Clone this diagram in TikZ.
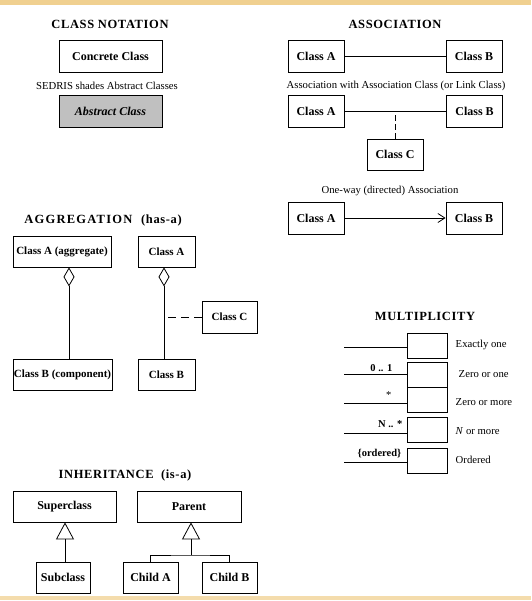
\documentclass[tikz,border=0pt]{standalone}
\usepackage{fontspec}
\setmainfont{Liberation Serif}
\newfontfamily\headfont[LetterSpace=5]{Liberation Serif}
\newfontfamily\wideheadfont[LetterSpace=10]{Liberation Serif}
\usetikzlibrary{arrows.meta}
\definecolor{barcol}{RGB}{240,208,144}
\definecolor{absgray}{RGB}{192,192,192}

\begin{document}
\begin{tikzpicture}[x=1pt,y=-1pt,line width=0.8pt,
  cls/.style={draw,fill=white,inner sep=0pt,minimum height=32pt,minimum width=#1,
    font=\fontsize{12}{14}\selectfont\bfseries},
  agg/.style={cls=#1,minimum height=31pt,font=\fontsize{11}{13}\selectfont\bfseries},
  title/.style={font=\fontsize{12.5}{14}\headfont\bfseries},
  note/.style={font=\fontsize{10.7}{12}\selectfont},
  qual/.style={anchor=east,font=\fontsize{10.5}{12}\selectfont\bfseries},
  mult/.style={draw,inner sep=0pt,minimum width=40pt,minimum height=25pt},
  hasa/.style={{Diamond[open,length=19pt,width=11pt]}-},
  isa/.style={{Triangle[open,length=17pt,width=18pt]}-}]
\useasboundingbox (0,0) rectangle (531,601);
\fill[barcol] (0,0) rectangle (531,5);
\fill[barcol!75] (0,596) rectangle (531,600);

% class notation
\node[title] (tnot) at (110,24) {CLASS NOTATION};
\node[cls=103pt] (conc) at (110.5,56) {Concrete Class};
\node[note] (shade) at (107,86) {SEDRIS shades Abstract Classes};
\node[cls=103pt,fill=absgray,font=\fontsize{12}{14}\selectfont\bfseries\itshape] (abs) at (110.5,111) {Abstract Class};

% association
\node[title] (tasc) at (395,24) {ASSOCIATION};
\node[cls=56pt] (a1) at (316,56) {Class A};
\node[cls=56pt] (b1) at (474,56) {Class B};
\draw (a1) -- (b1);
\node[note] (linkcls) at (396,86) {Association with Association Class (or Link Class)};
\node[cls=56pt] (a2) at (316,111) {Class A};
\node[cls=56pt] (b2) at (474.5,111) {Class B};
\node[cls=56pt,minimum height=31pt] (c2) at (395,154.5) {Class C};
\draw (a2) -- (b2);
\draw[dash pattern=on 6pt off 3pt] (c2.north) -- (c2.north |- a2.east);
\node[note] (oneway) at (390,191) {One-way (directed) Association};
\node[cls=56pt] (a3) at (316,218) {Class A};
\node[cls=56pt] (b3) at (474,218) {Class B};
\draw[-{Straight Barb[length=7pt,width=9pt]}] (a3) -- (b3);

% aggregation
\node[title,font=\fontsize{12.5}{14}\wideheadfont\bfseries] (tagg) at (103,220) {AGGREGATION\ \ \headfont(has-a)};
\node[agg=98pt] (whole) at (62,251.5) {Class A (aggregate)};
\node[agg=99pt] (part) at (62.5,374.5) {Class B (component)};
\draw[hasa] ([xshift=7pt]whole.south) -- ([xshift=7pt]whole.south |- part.north);
\node[agg=57pt] (wa) at (166.5,251.5) {Class A};
\node[agg=57pt] (wb) at (166.5,374.5) {Class B};
\node[agg=55pt,minimum height=32pt] (wc) at (229.5,317) {Class C};
\draw[hasa] ([xshift=-2.5pt]wa.south) -- ([xshift=-2.5pt]wa.south |- wb.north);
\draw[dash pattern=on 8pt off 5pt] (wc.west) -- ++(-36,0);

% multiplicity
\node[title] (tmul) at (425,316) {MULTIPLICITY};
\node[mult] (m1) at (427,345.5) {};
\node[mult] (m2) at (427,374.5) {};
\node[mult] (m3) at (427,400) {};
\node[mult] (m4) at (427,429.5) {};
\node[mult] (m5) at (427,460.5) {};
\coordinate (e1) at (344,347);
\coordinate (e2) at (344,374);
\coordinate (e3) at (344,403);
\coordinate (e4) at (344,433);
\coordinate (e5) at (344,462);
\draw (e1) -- (e1 -| m1.west);
\draw (e2) -- (e2 -| m2.west);
\draw (e3) -- (e3 -| m3.west);
\draw (e4) -- (e4 -| m4.west);
\draw (e5) -- (e5 -| m5.west);
\node[qual] (q2) at (396,368) {0 .. 1};
\node[qual,font=\fontsize{10.5}{12}\selectfont] (q3) at (395,395) {*};
\node[qual] (q4) at (406,424) {N .. *};
\node[qual] (q5) at (405,454) {\{ordered\}};
\node[note,anchor=west] (r1) at (452,345) {Exactly one};
\node[note,anchor=west] (r2) at (455,374) {Zero or one};
\node[note,anchor=west] (r3) at (452,402) {Zero or more};
\node[note,anchor=west] (r4) at (452,431) {\textit{N} or more};
\node[note,anchor=west] (r5) at (452,460) {Ordered};

% inheritance
\node[title] (tinh) at (125,475) {INHERITANCE\ \ (is-a)};
\node[cls=103pt,minimum height=31pt] (sup) at (64.5,506.5) {Superclass};
\node[cls=54pt,minimum height=31pt] (sub) at (63,577.5) {Subclass};
\draw[isa] ([xshift=2pt]sub.north |- sup.south) -- ([xshift=2pt]sub.north);
\node[cls=104pt,minimum height=31pt] (par) at (189,506.5) {Parent};
\node[cls=55pt,minimum height=31pt] (cha) at (150.5,577.5) {Child A};
\node[cls=55pt,minimum height=31pt] (chb) at (229.5,577.5) {Child B};
\coordinate (fork) at (191,555);
\draw (cha.north) |- (fork) -| (chb.north);
\draw[isa] (fork |- par.south) -- (fork);
\end{tikzpicture}
\end{document}
